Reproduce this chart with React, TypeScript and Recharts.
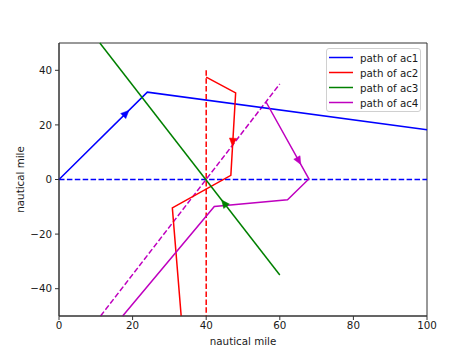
import { ComposedChart, Line, Scatter, XAxis, YAxis, Legend, ReferenceArea } from "recharts";

const BLUE = "#0000ff";
const RED = "#ff0000";
const GREEN = "#008000";
const MAGENTA = "#bf00bf";
const FONT = "DejaVu Sans, sans-serif";

const X_TICKS = [0, 20, 40, 60, 80, 100];
const Y_TICKS = [-40, -20, 0, 20, 40];

// flown paths (nautical miles)
const ac1Path = [{ x: 0, y: 0 }, { x: 24, y: 32 }, { x: 100, y: 18.2 }];
const ac2Path = [{ x: 40, y: 37.5 }, { x: 48, y: 31.7 }, { x: 46.7, y: 1.5 }, { x: 30.8, y: -10.4 }, { x: 33.2, y: -50 }];
const ac3Path = [{ x: 60, y: -35 }, { x: 11.1, y: 50 }];
const ac4Path = [{ x: 56.3, y: 28.3 }, { x: 67.9, y: 0.2 }, { x: 62.1, y: -7.4 }, { x: 42.2, y: -9.9 }, { x: 17.3, y: -50 }];

// planned straight tracks (dashed)
const ac1Track = [{ x: 0, y: 0 }, { x: 100, y: 0 }];
const ac2Track = [{ x: 40, y: 40 }, { x: 40, y: -50 }];
const ac4Track = [{ x: 11.3, y: -50 }, { x: 60, y: 35 }];

// direction arrows: tip position + heading
const arrowData = [
	{ x: 19, y: 25.3, dx: 24, dy: 32, color: BLUE },
	{ x: 47.15, y: 12.2, dx: -1.3, dy: -30.2, color: RED },
	{ x: 44.2, y: -7.5, dx: -48.9, dy: 85, color: GREEN },
	{ x: 65.7, y: 5.5, dx: 11.6, dy: -28.1, color: MAGENTA },
];

const legendNames = ["path of ac1", "path of ac2", "path of ac3", "path of ac4"];
const legendColors = [BLUE, RED, GREEN, MAGENTA];

const WIDTH = 474;
const HEIGHT = 355;
const MARGIN = { top: 43, right: 47, left: 0, bottom: 0 };
const Y_AXIS_W = 59;
const X_AXIS_H = 39;
// px per data unit, for orienting arrow heads
const SX = (WIDTH - MARGIN.right - Y_AXIS_W) / 100;
const SY = (HEIGHT - MARGIN.top - X_AXIS_H) / 100;

const fmt = (v: number) => (v < 0 ? `\u2212${-v}` : `${v}`);

const ArrowHead = (props: any) => {
	const { cx, cy, payload } = props;
	const a = Math.atan2(-payload.dy * SY, payload.dx * SX);
	const L = 8;
	const W = 3.6;
	const bx = cx - L * Math.cos(a);
	const by = cy - L * Math.sin(a);
	const px = -Math.sin(a) * W;
	const py = Math.cos(a) * W;
	return (
		<polygon
			fill={payload.color}
			points={`${cx},${cy} ${bx + px},${by + py} ${bx - px},${by - py}`}
			stroke={payload.color}
			strokeWidth={0.5}
		/>
	);
};

const YLabel = (p: any) => {
	const vb = p.viewBox;
	const x = vb.x + 20;
	const y = vb.y + vb.height / 2;
	return (
		<text fill="#1a1a1a" fontFamily={FONT} fontSize={10.3} textAnchor="middle" dominantBaseline="central" transform={`rotate(-90, ${x}, ${y})`} x={x} y={y}>
			nautical mile
		</text>
	);
};

const XLabel = (p: any) => {
	const vb = p.viewBox;
	return (
		<text fill="#1a1a1a" fontFamily={FONT} fontSize={10.3} textAnchor="middle" x={vb.x + vb.width / 2} y={vb.y + 29}>
			nautical mile
		</text>
	);
};

const LegendBox = () => (
	<div
		style={{
			width: 95,
			height: 64,
			boxSizing: "border-box",
			border: "1px solid #d0d0d0",
			borderRadius: 3,
			background: "rgba(255,255,255,0.8)",
			paddingTop: 1,
			fontFamily: FONT,
			fontSize: 10.3,
			color: "#1a1a1a",
		}}
	>
		{legendNames.map((name, i) => (
			<div key={name} style={{ display: "flex", alignItems: "center", height: 15 }}>
				<svg height={15} style={{ marginLeft: 1, marginRight: 7 }} width={25}>
					<line stroke={legendColors[i]} strokeWidth={1.5} x1={1} x2={25} y1={7.5} y2={7.5} />
				</svg>
				<span>{name}</span>
			</div>
		))}
	</div>
);

export default function App() {
	return (
		<div style={{ position: "absolute", left: 0, top: 0, width: WIDTH, height: HEIGHT, background: "#fff" }}>
			<ComposedChart height={HEIGHT} margin={MARGIN} width={WIDTH}>
				<XAxis
					axisLine={{ stroke: "#333" }}
					dataKey="x"
					domain={[0, 100]}
					height={X_AXIS_H}
					label={XLabel}
					tick={{ fill: "#1a1a1a", fontSize: 10.3, fontFamily: FONT }}
					tickLine={{ stroke: "#333" }}
					tickMargin={2}
					tickSize={4}
					ticks={X_TICKS}
					type="number"
				/>
				<YAxis
					axisLine={{ stroke: "#333" }}
					domain={[-50, 50]}
					label={YLabel}
					tick={{ fill: "#1a1a1a", fontSize: 10.3, fontFamily: FONT }}
					tickFormatter={fmt}
					tickLine={{ stroke: "#333" }}
					tickMargin={3}
					tickSize={4}
					ticks={Y_TICKS}
					type="number"
					width={Y_AXIS_W}
				/>
				<ReferenceArea fill="none" stroke="#333" x1={0} x2={100} y1={-50} y2={50} />

				<Line data={ac1Track} dataKey="y" dot={false} isAnimationActive={false} stroke={BLUE} strokeDasharray="5.5 2.4" strokeWidth={1.5} />
				<Line data={ac2Track} dataKey="y" dot={false} isAnimationActive={false} stroke={RED} strokeDasharray="5.5 2.4" strokeWidth={1.5} />
				<Line data={ac4Track} dataKey="y" dot={false} isAnimationActive={false} stroke={MAGENTA} strokeDasharray="5.5 2.4" strokeWidth={1.5} />

				<Line data={ac1Path} dataKey="y" dot={false} isAnimationActive={false} name="path of ac1" stroke={BLUE} strokeWidth={1.5} />
				<Line data={ac2Path} dataKey="y" dot={false} isAnimationActive={false} name="path of ac2" stroke={RED} strokeWidth={1.5} />
				<Line data={ac3Path} dataKey="y" dot={false} isAnimationActive={false} name="path of ac3" stroke={GREEN} strokeWidth={1.5} />
				<Line data={ac4Path} dataKey="y" dot={false} isAnimationActive={false} name="path of ac4" stroke={MAGENTA} strokeWidth={1.5} />

				<Scatter data={arrowData} dataKey="y" isAnimationActive={false} shape={ArrowHead} />

				<Legend
					align="center"
					content={LegendBox}
					layout="vertical"
					verticalAlign="middle"
					wrapperStyle={{ left: 326, top: 48, width: 95 }}
				/>
			</ComposedChart>
		</div>
	);
}
